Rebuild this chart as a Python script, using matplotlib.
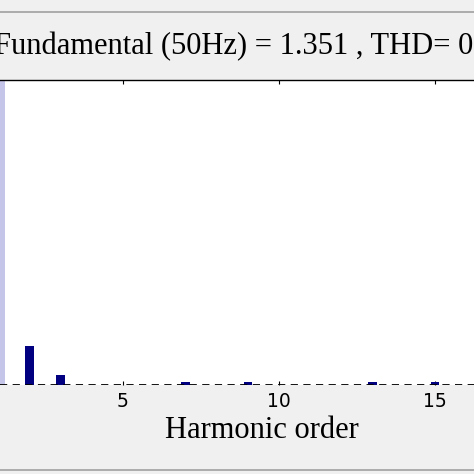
import matplotlib
matplotlib.use("Agg")
import matplotlib.pyplot as plt

harmonics = [1, 2, 3, 4, 5, 6, 7, 8, 9, 10, 11, 12, 13, 14, 15, 16]
magnitudes = [100, 12.8, 3.3, 0, 0, 0, 0.9, 0, 0.9, 0, 0, 0, 0.9, 0, 0.9, 0]
xticks = [5, 10, 15]
title = "Fundamental (50Hz) = 1.351 , THD= 0"

W = 474
fig = plt.figure(figsize=(4.74, 4.74), dpi=100, facecolor="#f0f0f0")
fig.add_artist(plt.Line2D([0, 1], [1 - 12 / W, 1 - 12 / W], color="#a0a0a0", lw=1.2))
fig.add_artist(plt.Line2D([0, 1], [1 - 470 / W, 1 - 470 / W], color="#a0a0a0", lw=1.2))

ax = fig.add_axes([0, 1 - 385 / W, 1, (385 - 80) / W])
ax.set_facecolor("white")
colors = ["#c5c5ea"] + ["#000080"] * (len(harmonics) - 1)
widths = [0.44] + [0.27] * (len(harmonics) - 1)
ax.bar(harmonics, magnitudes, width=widths, color=colors, zorder=2)
ax.axhline(0, color="black", ls=(0, (4, 3)), lw=1.3, zorder=3)
ax.set_xlim(1.06, 16.25)
ax.set_ylim(0, 100)
for s in ["left", "right", "bottom"]:
    ax.spines[s].set_visible(False)
ax.spines["top"].set_linewidth(1)
ax.set_xticks(xticks)
ax.set_yticks([])
ax.tick_params(axis="x", top=True, direction="in", length=3, labelsize=13.5, pad=5, colors="black")
ax.set_xlabel("Harmonic order", family="Liberation Serif", fontsize=22)
ax.xaxis.set_label_coords(262 / W, -(430 - 385) / 305)
ax.xaxis.label.set_va("center")

fig.text(-6 / W, 1 - 47 / W, title, family="Liberation Serif", fontsize=22,
         ha="left", va="center")
fig.savefig("out.png", dpi=100, facecolor=fig.get_facecolor())
